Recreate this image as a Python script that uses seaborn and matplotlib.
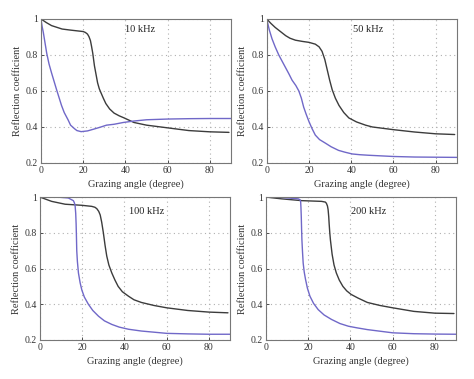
import matplotlib
matplotlib.use("Agg")
import matplotlib.pyplot as plt
import pandas as pd
import seaborn as sns

# panel titles
panels = ["10 kHz", "50 kHz", "100 kHz", "200 kHz"]

# dark curve (angle in degrees, reflection coefficient)
dark_x = [
    [0, 2.5, 5, 10, 14, 20, 21, 22, 22.7, 23.4, 23.9, 24.5, 25.3, 26.8, 27.6, 28.4, 29.5, 30.7, 32.5,
     34.6, 37, 39.4, 44, 50, 60, 70, 80, 89],
    [0, 2, 4, 6.5, 9, 11, 13.6, 17, 20, 23, 24.8, 26.2, 27.5, 28.6, 29.8, 31, 32.5, 34.2, 36.5,
     38.9, 42.5, 46.8, 50, 60, 70, 80, 89],
    [0, 5.5, 11.9, 19.8, 24.5, 26, 26.9, 27.8, 28.5, 29.2, 30, 30.8, 31.6, 32.6, 34, 35.5, 37, 39,
     41.9, 44.5, 48, 54, 60, 70, 80, 89],
    [0, 7.5, 17, 26.3, 28.1, 28.6, 29.1, 29.4, 29.7, 29.9, 30.2, 30.5, 30.9, 31.3, 32.2, 33.3, 34.7,
     36.4, 38.2, 40.3, 43.5, 48, 54, 60, 70, 80, 89],
]
dark_y = [
    [1.0, 0.98, 0.963, 0.944, 0.938, 0.93, 0.925, 0.916, 0.902, 0.88, 0.85, 0.81, 0.74, 0.645, 0.612,
     0.59, 0.56, 0.53, 0.50, 0.477, 0.462, 0.45, 0.425, 0.41, 0.395, 0.38, 0.373, 0.37],
    [1.0, 0.975, 0.953, 0.93, 0.907, 0.893, 0.882, 0.875, 0.87, 0.86, 0.845, 0.82, 0.775, 0.72, 0.66,
     0.607, 0.56, 0.52, 0.48, 0.45, 0.428, 0.41, 0.40, 0.385, 0.372, 0.362, 0.358],
    [1.0, 0.976, 0.96, 0.954, 0.948, 0.943, 0.935, 0.92, 0.90, 0.86, 0.80, 0.73, 0.67, 0.62, 0.575,
     0.535, 0.50, 0.47, 0.445, 0.425, 0.41, 0.393, 0.38, 0.365, 0.356, 0.352],
    [1.0, 0.99, 0.98, 0.976, 0.972, 0.965, 0.95, 0.93, 0.89, 0.85, 0.80, 0.76, 0.72, 0.68, 0.62, 0.575,
     0.535, 0.50, 0.475, 0.455, 0.435, 0.41, 0.393, 0.38, 0.36, 0.35, 0.348],
]

# blue curve
blue_x = [
    [0, 0.5, 1.1, 2.7, 3.8, 5, 7.3, 9.7, 11, 12.8, 14, 15.9, 17, 19, 22, 25, 28.4, 31, 34.6, 39, 44,
     50, 60, 70, 80, 90],
    [0, 1.2, 2.5, 4, 5.7, 7.3, 8.9, 10.5, 12, 13.8, 15.2, 16.4, 17.5, 18.7, 20, 21.5, 23, 25, 27.8,
     30.5, 34, 37, 40.5, 44, 48, 60, 70, 80, 90],
    [0, 8, 13.4, 15.8, 16.2, 16.6, 16.9, 17.1, 17.25, 17.4, 17.7, 18.2, 19, 19.8, 21, 22.9, 25, 27.7,
     30.5, 34, 37.5, 41.9, 48, 60, 70, 80, 90],
    [0, 7.5, 15.3, 16.1, 16.4, 16.55, 16.7, 16.85, 17, 17.3, 17.6, 18.1, 18.7, 19.6, 20.8, 22.5, 24.7,
     27.5, 31, 35, 39, 43, 48, 60, 70, 80, 90],
]
blue_y = [
    [1.0, 0.96, 0.925, 0.81, 0.75, 0.70, 0.61, 0.52, 0.48, 0.44, 0.41, 0.39, 0.38, 0.374, 0.378,
     0.388, 0.40, 0.41, 0.415, 0.425, 0.433, 0.44, 0.444, 0.446, 0.447, 0.447],
    [1.0, 0.94, 0.89, 0.845, 0.80, 0.765, 0.73, 0.695, 0.66, 0.63, 0.60, 0.56, 0.51, 0.47, 0.43, 0.39,
     0.355, 0.33, 0.31, 0.29, 0.27, 0.26, 0.25, 0.246, 0.243, 0.236, 0.233, 0.232, 0.231],
    [1.0, 1.0, 0.995, 0.98, 0.97, 0.955, 0.91, 0.85, 0.78, 0.70, 0.64, 0.575, 0.52, 0.48, 0.44, 0.40,
     0.365, 0.333, 0.307, 0.287, 0.272, 0.26, 0.25, 0.237, 0.234, 0.232, 0.232],
    [1.0, 0.998, 0.99, 0.985, 0.975, 0.94, 0.89, 0.82, 0.76, 0.69, 0.63, 0.58, 0.54, 0.49, 0.445,
     0.405, 0.37, 0.34, 0.315, 0.292, 0.277, 0.268, 0.258, 0.24, 0.235, 0.233, 0.232],
]

x_ticks = [0, 20, 40, 60, 80]
y_ticks = [0.2, 0.4, 0.6, 0.8, 1.0]
y_tick_labels = ["0.2", "0.4", "0.6", "0.8", "1"]

sns.set_theme(style="ticks")
plt.rcParams["font.family"] = ["Liberation Serif", "DejaVu Serif"]

fig = plt.figure(figsize=(4.74, 3.79), dpi=100)

# axes boxes [left, bottom, width, height]
boxes = [
    [0.0865, 0.570, 0.401, 0.380],
    [0.5627, 0.570, 0.401, 0.380],
    [0.0844, 0.103, 0.401, 0.377],
    [0.5612, 0.103, 0.401, 0.377],
]
label_pos = [(47, 0.94), (48, 0.94), (50.5, 0.92), (48.5, 0.92)]

for i in range(4):
    ax = fig.add_axes(boxes[i])
    df_dark = pd.DataFrame({"angle": dark_x[i], "R": dark_y[i]})
    df_blue = pd.DataFrame({"angle": blue_x[i], "R": blue_y[i]})
    sns.lineplot(data=df_dark, x="angle", y="R", color="#3c3c3c", lw=1.0,
                 estimator=None, sort=False, ax=ax)
    sns.lineplot(data=df_blue, x="angle", y="R", color="#7068c8", lw=1.0,
                 estimator=None, sort=False, ax=ax)
    ax.set_xlim(0, 90)
    ax.set_ylim(0.2, 1.0)
    ax.set_xticks(x_ticks)
    ax.set_xticklabels([str(t) for t in x_ticks])
    ax.set_yticks(y_ticks)
    ax.set_yticklabels(y_tick_labels)
    ax.grid(True, linestyle=(0, (1, 3)), color="#b0b0b0", lw=0.8)
    ax.tick_params(direction="in", length=2.5, width=0.6, labelsize=7,
                   colors="#333333", pad=2)
    for s in ax.spines.values():
        s.set_color("#777777")
        s.set_linewidth(0.8)
    ax.set_xlabel("Grazing angle (degree)", fontsize=7.5, color="#333333", labelpad=3)
    ax.set_ylabel("Reflection coefficient", fontsize=7.5, color="#333333", labelpad=3)
    ax.text(label_pos[i][0], label_pos[i][1], panels[i], fontsize=7.5,
            color="#222222", ha="center", va="center")

fig.savefig("out.png", dpi=100)
